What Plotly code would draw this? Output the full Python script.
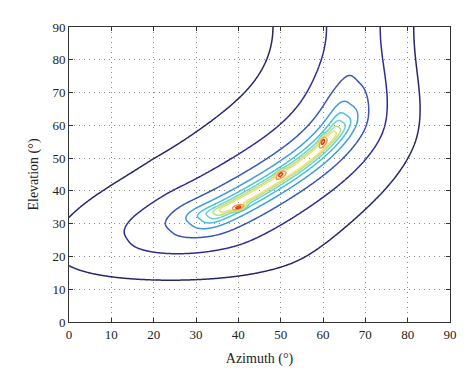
import numpy as np
import plotly.graph_objects as go

# ---- data ----
# estimated source directions (spectral peaks), degrees
src_az = [40.0, 50.0, 60.0]
src_el = [35.0, 45.0, 55.0]

# points on the centre of the spectrum ridge (azimuth, elevation), degrees
ridge_az = [0.0, 13.0, 23.5, 40.0, 50.0, 60.0, 66.8, 68.5, 68.8]
ridge_el = [24.0, 25.3, 28.3, 35.0, 45.0, 55.0, 64.5, 71.6, 90.0]

# contour levels of the spatial spectrum (dB)
level_start = 12.0
level_step = 5.5
n_levels = 10

# line colour of each contour level, lowest first
level_colors = ["#262668", "#2c2c96", "#3755b4", "#3f9ad6", "#45c3d6",
                "#6fd2cc", "#b5e08a", "#efe06a", "#f2a040", "#d83a20"]

tick_vals = [0, 10, 20, 30, 40, 50, 60, 70, 80, 90]
x_title = "Azimuth (°)"
y_title = "Elevation (°)"

# ---- spatial spectrum on the azimuth/elevation grid ----
az = np.linspace(0, 90, 361)
el = np.linspace(0, 90, 361)
AZ, EL = np.meshgrid(az, el)


def dircos(a, e):
    a = np.radians(a)
    e = np.radians(e)
    return np.sin(e) * np.cos(a), np.sin(e) * np.sin(a)


X, Y = dircos(AZ, EL)
sx, sy = dircos(np.array(src_az), np.array(src_el))
rx, ry = dircos(np.array(ridge_az), np.array(ridge_el))

# smooth ridge centre line x0(y)
x0 = np.polyval(np.polyfit(ry, rx, 4), Y)

# along-ridge residual (small near the sources) and across-ridge term
prod = np.ones_like(Y)
for yk in sy:
    prod = prod * np.abs(Y - yk)
h = 3e-6 + 3234.0 * prod ** 3.6 * (1 + (prod / 0.02) ** 4) ** (-2.05 / 4)
dx = X - x0
dx = np.where(dx > 0, dx * (1 - 0.3 * dx), dx)
dx2 = dx ** 2
g = dx2 ** 2 / (0.04 ** 2 + dx2)
P = 1.0 / (h + g)
for xk, yk in zip(sx, sy):
    P = P + 2.0e6 * np.exp(-((X - xk) / 0.006) ** 2 - ((Y - yk) / 0.012) ** 2)
Z = np.round(10 * np.log10(P), 3)

level_end = level_start + level_step * (n_levels - 1)
cscale = [[i / (n_levels - 1), c] for i, c in enumerate(level_colors)]

fig = go.Figure(go.Contour(
    x=az, y=el, z=Z,
    contours=dict(start=level_start, end=level_end, size=level_step,
                  coloring="lines"),
    colorscale=cscale, zmin=level_start, zmax=level_end,
    line=dict(width=1.5, smoothing=1),
    showscale=False, hoverinfo="skip",
))

font = dict(family="Liberation Serif, Times New Roman, serif", size=13, color="#222")
axis = dict(range=[0, 90], tickvals=tick_vals, ticks="inside", ticklen=4,
            tickcolor="#333", showline=True, linecolor="#333", linewidth=1,
            mirror="ticks", showgrid=True, gridcolor="#8a8a8a", gridwidth=1,
            griddash="1px,4px", zeroline=False, tickfont=font)

# the page body adds an 8 px margin, so the figure is 8 px smaller each way
fig.update_layout(
    width=466, height=376,
    margin=dict(l=61, r=24, t=16, b=62),
    paper_bgcolor="white", plot_bgcolor="white",
    font=font,
    xaxis=dict(axis, title=dict(text=x_title, font=dict(size=14), standoff=12)),
    yaxis=dict(axis, title=dict(text=y_title, font=dict(size=14), standoff=10)),
)
fig.write_html("out.html")
